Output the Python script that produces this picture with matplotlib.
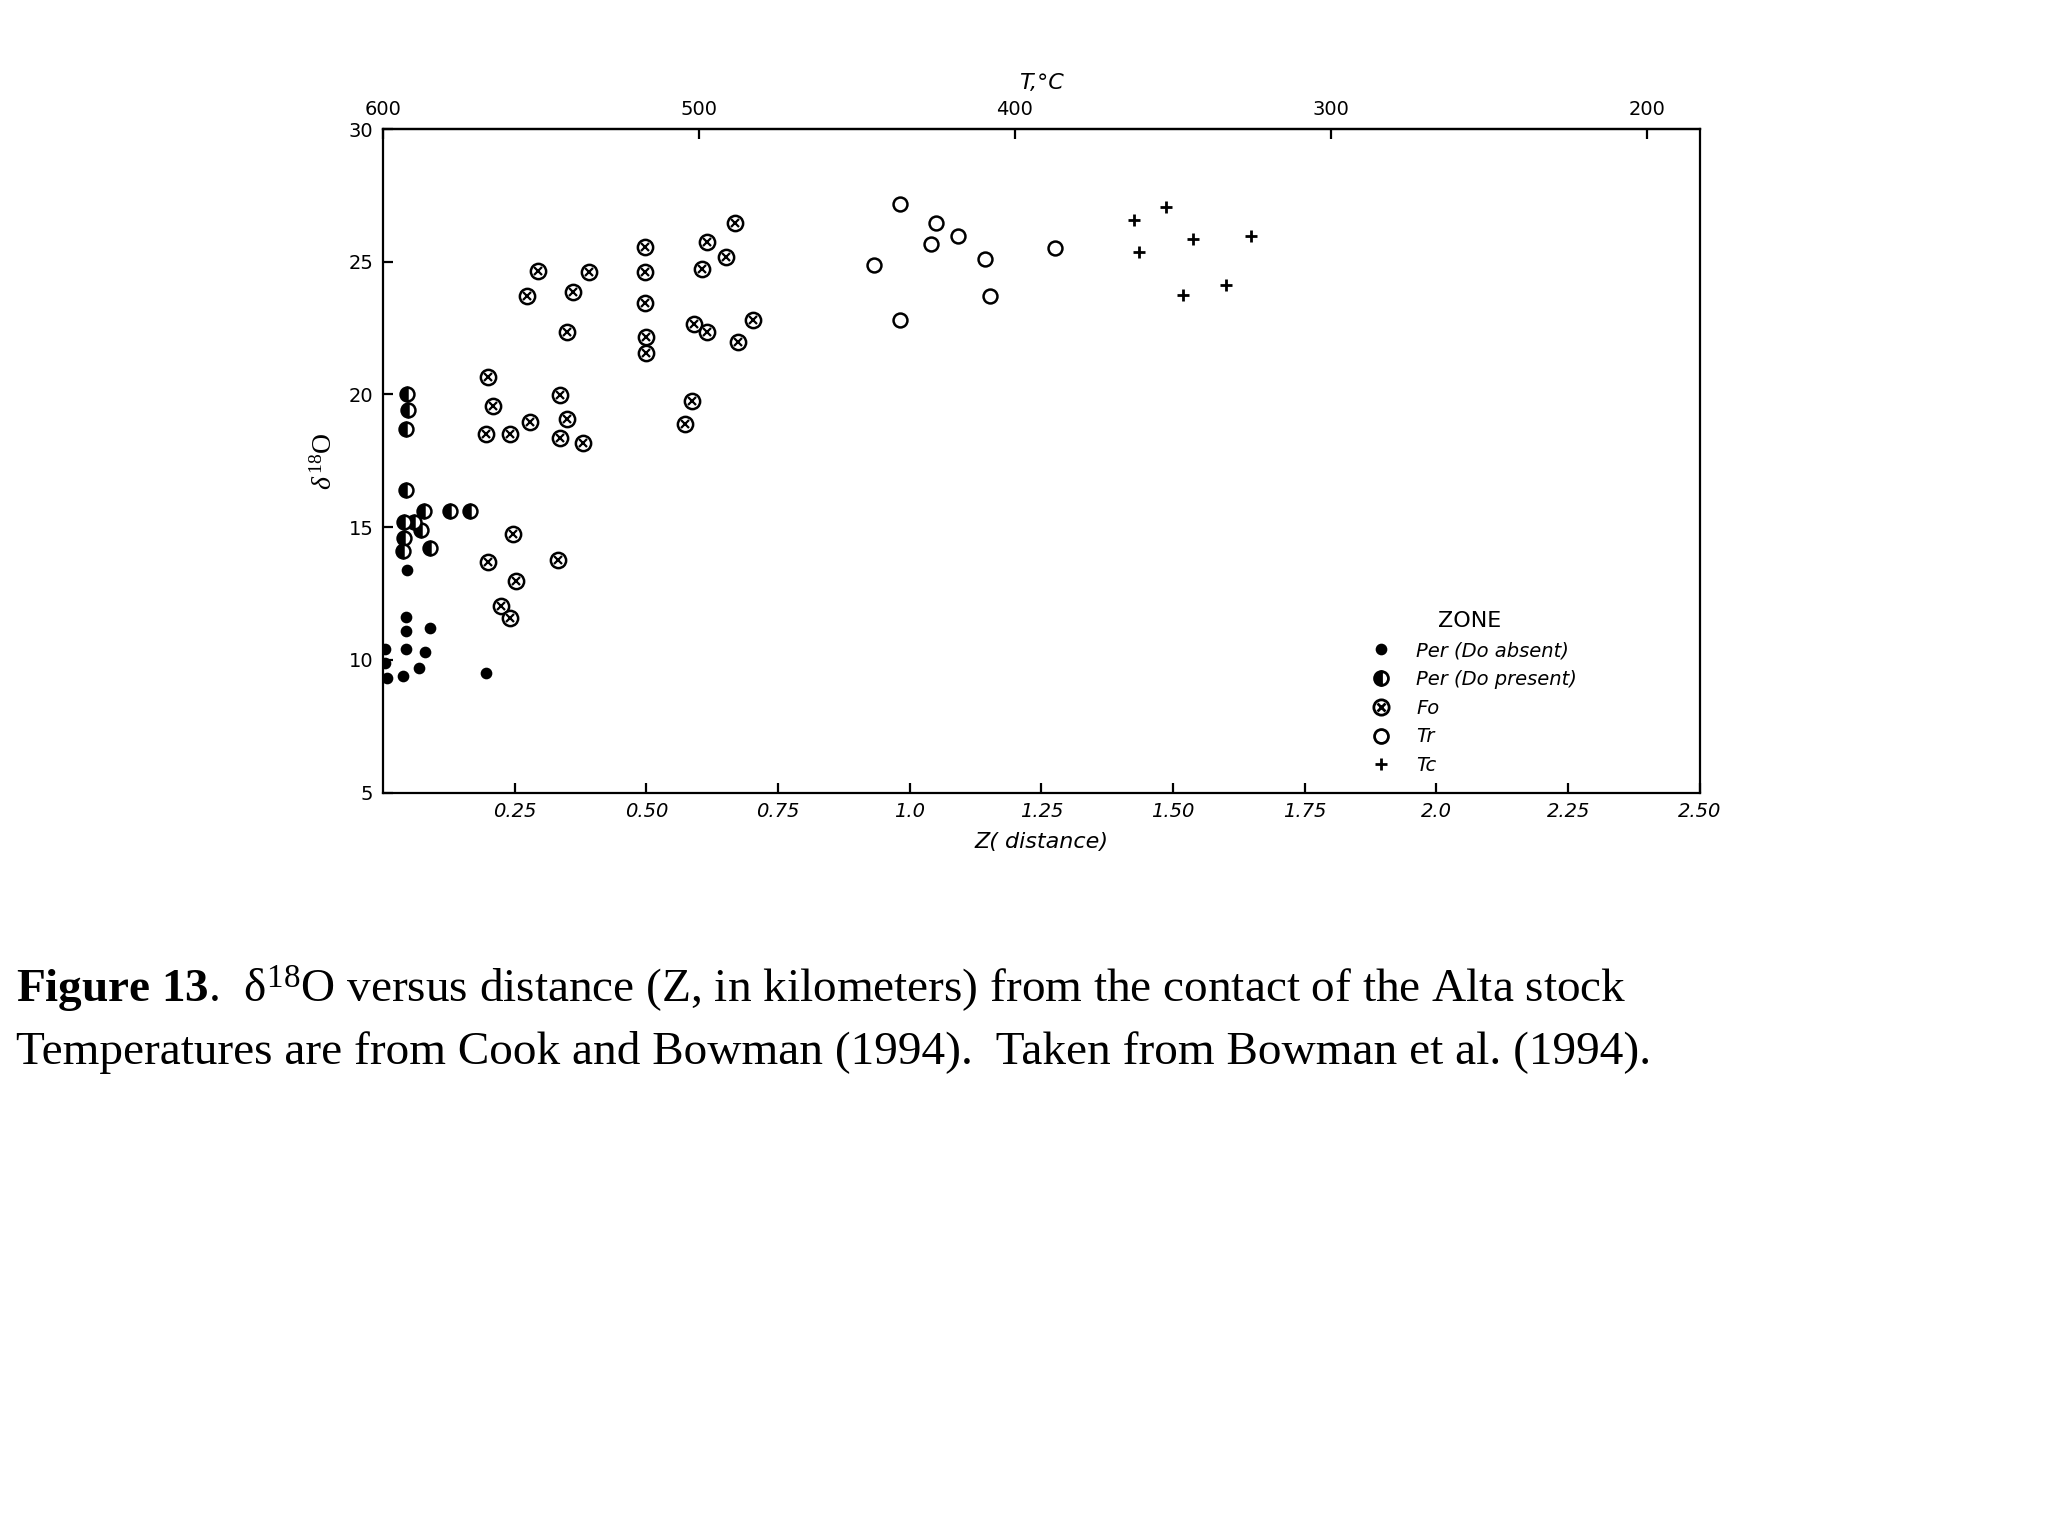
import matplotlib
matplotlib.use("Agg")
import matplotlib.pyplot as plt
from matplotlib.legend_handler import HandlerTuple
from matplotlib.lines import Line2D

plt.rcParams['mathtext.fontset'] = 'custom'
plt.rcParams['mathtext.rm'] = 'Liberation Serif'
plt.rcParams['mathtext.bf'] = 'Liberation Serif:bold'
plt.rcParams['mathtext.it'] = 'Liberation Serif:italic'

per_abs_z = [0.003,0.003,0.008,0.038,0.043,0.043,0.043,0.068,0.08,0.09,0.196,0.045]
per_abs_d = [10.4,9.9,9.3,9.4,11.6,11.1,10.4,9.7,10.3,11.2,9.5,13.4]
per_pre_z = [0.045,0.048,0.043,0.043,0.04,0.04,0.038,0.078,0.073,0.09,0.128,0.166,0.058]
per_pre_d = [20.0,19.4,18.7,16.4,15.2,14.6,14.1,15.6,14.9,14.2,15.6,15.6,15.2]
fo_z = [0.199,0.209,0.196,0.241,0.279,0.274,0.294,0.246,0.199,0.252,0.224,0.241,0.332,0.337,0.350,0.337,0.380,0.350,0.360,0.392,0.498,0.498,0.498,0.500,0.500,0.616,0.606,0.669,0.651,0.591,0.616,0.674,0.702,0.586,0.573]
fo_d = [20.67,19.57,18.52,18.52,18.97,23.71,24.66,14.73,13.68,12.98,12.04,11.59,13.78,19.97,19.07,18.37,18.17,22.37,23.86,24.61,25.56,24.61,23.46,22.17,21.57,25.76,24.71,26.46,25.16,22.66,22.37,21.97,22.81,19.77,18.87]
tr_z = [0.981,0.933,0.981,1.049,1.041,1.092,1.142,1.152,1.275]
tr_d = [27.16,24.86,22.81,26.46,25.66,25.96,25.11,23.71,25.51]
tc_z = [1.426,1.486,1.436,1.537,1.647,1.519,1.600]
tc_d = [26.56,27.06,25.36,25.86,25.96,23.76,24.11]

x_ticks = [0.25,0.5,0.75,1.0,1.25,1.5,1.75,2.0,2.25,2.5]
x_labels = ["0.25","0.50","0.75","1.0","1.25","1.50","1.75","2.0","2.25","2.50"]
t_ticks = [600,500,400,300,200]

fig = plt.figure(figsize=(10.24,7.68), dpi=200)
ax = fig.add_axes([0.187,0.484,0.643,0.432])
ax.set_xlim(0,2.5); ax.set_ylim(5,30)
ms=5
ax.plot(per_abs_z, per_abs_d, 'o', color='k', ms=3.2, ls='none')
ax.plot(per_pre_z, per_pre_d, 'o', color='k', ms=ms, fillstyle='left', markerfacecoloralt='white', mew=0.9, ls='none')
ax.plot(fo_z, fo_d, 'o', mfc='white', mec='k', ms=ms+0.5, mew=0.9, ls='none')
ax.plot(fo_z, fo_d, 'x', color='k', ms=3.2, mew=0.8, ls='none')
ax.plot(tr_z, tr_d, 'o', mfc='white', mec='k', ms=ms, mew=0.9, ls='none')
ax.plot(tc_z, tc_d, '+', color='k', ms=4, mew=1.0, ls='none')

ax.set_xticks(x_ticks); ax.set_xticklabels(x_labels, fontsize=7, style='italic')
ax.set_yticks([5,10,15,20,25,30]); ax.tick_params(labelsize=7, direction='in')
ax.set_xlabel("Z( distance)", fontsize=8, style='italic')
ax.set_ylabel(r"$\delta\,^{18}\mathrm{O}$", fontsize=10)
top = ax.secondary_xaxis('top', functions=(lambda z: 600-z*166.7, lambda t: (600-t)/166.7))
top.set_xticks(t_ticks); top.tick_params(labelsize=7, direction='in')
top.set_xlabel("T,°C", fontsize=8, style='italic')

h1 = Line2D([],[],marker='o',color='k',ms=3.2,ls='none')
h2 = Line2D([],[],marker='o',color='k',ms=ms,fillstyle='left',markerfacecoloralt='white',ls='none')
h3a = Line2D([],[],marker='o',mfc='white',mec='k',ms=ms+0.5,ls='none')
h3b = Line2D([],[],marker='x',color='k',ms=3.2,ls='none')
h4 = Line2D([],[],marker='o',mfc='white',mec='k',ms=ms,ls='none')
h5 = Line2D([],[],marker='+',color='k',ms=4,ls='none')
leg = ax.legend([h1,h2,(h3a,h3b),h4,h5],["Per (Do absent)","Per (Do present)","Fo","Tr","Tc"],
          handler_map={tuple: HandlerTuple(ndivide=1)}, title="ZONE",
          loc='lower right', bbox_to_anchor=(0.92,0.0), frameon=False, title_fontsize=8,
          prop={'style':'italic','size':7})

fig.text(0.008,0.347,r"$\mathbf{Figure\ 13}$.  δ$^{18}$O versus distance (Z, in kilometers) from the contact of the Alta stock",
         fontsize=17, family='Liberation Serif')
fig.text(0.008,0.307,"Temperatures are from Cook and Bowman (1994).  Taken from Bowman et al. (1994).",
         fontsize=17, family='Liberation Serif')
fig.savefig("out.png", dpi=200)
